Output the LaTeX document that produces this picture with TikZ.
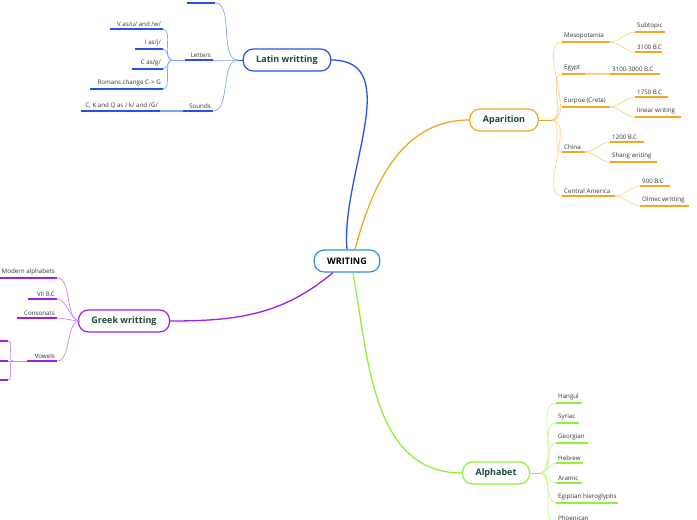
\documentclass[tikz,border=0pt]{standalone}
\usepackage{fontspec}
\setmainfont{Open Sans}
\begin{document}
\definecolor{bl}{HTML}{2553E6}\definecolor{bll}{HTML}{86A4F7}
\definecolor{or}{HTML}{F5A623}\definecolor{orl}{HTML}{FDD08A}
\definecolor{pu}{HTML}{9B1FE8}\definecolor{pul}{HTML}{C987F5}
\definecolor{gr}{HTML}{8EF23B}\definecolor{grl}{HTML}{C4F891}
\definecolor{wr}{HTML}{2F8FD8}\definecolor{tg}{HTML}{1B4A3A}
\begin{tikzpicture}[x=1pt,y=-1pt,
  main/.style={draw,rounded corners=10pt,line width=1.2pt,fill=white,minimum height=22pt,inner xsep=13pt,font=\fontsize{9}{11}\selectfont\bfseries,text=tg},
  lt/.style={font=\fontsize{6.2}{7}\selectfont,text=black!80,inner sep=1pt},
  br/.style={line width=0.7pt},
  ul/.style={line width=1.6pt}]
\useasboundingbox (0,0) rectangle (697,520);
\newcommand\leafR[6]{\coordinate (#1-a) at (#2,#4);\coordinate (#1-b) at (#3,#4);
  \draw[ul,#6] (#1-a)--(#1-b); \node[lt,anchor=south west] (#1) at (#2+1,#4-1.5) {#5};}
\newcommand\leafL[6]{\coordinate (#1-a) at (#2,#4);\coordinate (#1-b) at (#3,#4);
  \draw[ul,#6] (#1-a)--(#1-b); \node[lt,anchor=south east] (#1) at (#3-1,#4-1.5) {#5};}
\newcommand\con[3]{\draw[br,#3] (#1) to[out=0,in=180,looseness=0.8] (#2);}
\newcommand\conL[3]{\draw[br,#3] (#1) to[out=180,in=0,looseness=0.8] (#2);}

\node[main,draw=wr,text=black] (w) at (347,261) {WRITING};
\node[main,draw=bl] (lat) at (287,60) {Latin writting};
\node[main,draw=or] (apa) at (504,120) {Aparition};
\node[main,draw=pu] (gre) at (124,321) {Greek writting};
\node[main,draw=gr] (alp) at (496,473) {Alphabet};

\draw[bl,line width=1.3pt] (lat.east) to[out=0,in=95] (w.north);
\draw[or,line width=1.3pt] ([xshift=8pt]w.north) to[out=75,in=180] (apa.west);
\draw[pu,line width=1.3pt] ([xshift=-14pt]w.south) to[out=220,in=0] (gre.east);
\draw[gr,line width=1.3pt] ([xshift=6pt]w.south) to[out=-80,in=180] (alp.west);

% Latin
\coordinate (lh) at (238,60);
\draw[bl,line width=1pt] (lat.west)--(lh);
\leafL{vi}{187}{215}{3}{VI B.C}{bl}
\leafL{let}{185}{213}{60}{Letters}{bl}
\leafL{snd}{183}{213}{111}{Sounds}{bl}
\foreach \n in {vi,let,snd}{\conL{lh}{\n-b}{bll}}
\coordinate (leh) at (172,60); \draw[br,bll] (let-a)--(leh);
\leafL{v}{110}{163}{29}{V as/u/ and /w/}{bl}
\leafL{i}{135}{163}{49}{I as/j/}{bl}
\leafL{c}{132}{163}{69}{C as/g/}{bl}
\leafL{rom}{90}{163}{89}{Romans change C-> G}{bl}
\foreach \n in {v,i,c,rom}{\conL{leh}{\n-b}{bll}}
\leafL{ck}{81}{160}{111}{C, K and Q as / k/ and /G/}{bl}
\draw[br,bll,line width=1.2pt] (snd-a)--(ck-b);

% Aparition
\coordinate (ah) at (552,120);
\draw[or,line width=1pt] (apa.east)--(ah);
\leafR{mes}{562}{610}{42}{Mesopotamia}{or}
\leafR{egy}{562}{585}{74}{Egypt}{or}
\leafR{eur}{562}{610}{107}{Eurpoe (Creta)}{or}
\leafR{chi}{562}{585}{152}{China}{or}
\leafR{cen}{562}{615}{196}{Central America}{or}
\foreach \n in {mes,egy,eur,chi,cen}{\con{ah}{\n-a}{orl}}
\leafR{sub}{635}{665}{32}{Subtopic}{or}
\leafR{m31}{635}{662}{52}{3100 B.C}{or}
\foreach \n in {sub,m31}{\con{mes-b}{\n-a}{orl}}
\leafR{e31}{610}{660}{74}{3100-3000 B.C}{or}
\draw[br,orl,line width=1.2pt] (egy-b)--(e31-a);
\leafR{e17}{635}{668}{97}{1750 B.C}{or}
\leafR{lin}{635}{681}{117}{linear writing}{or}
\foreach \n in {e17,lin}{\con{eur-b}{\n-a}{orl}}
\leafR{c12}{610}{644}{142}{1200 B.C}{or}
\leafR{sha}{610}{657}{162}{Shang writing}{or}
\foreach \n in {c12,sha}{\con{chi-b}{\n-a}{orl}}
\leafR{c9}{640}{670}{186}{900 B.C}{or}
\leafR{olm}{640}{689}{206}{Olmec writting}{or}
\foreach \n in {c9,olm}{\con{cen-b}{\n-a}{orl}}

% Greek
\coordinate (gh) at (80,321);
\draw[pu,line width=1pt] (gre.west)--(gh);
\leafL{mod}{0}{57}{278}{Modern alphabets}{pu}
\leafL{vii}{28}{57}{299}{VII B.C}{pu}
\leafL{cons}{17}{57}{318}{Consonats}{pu}
\leafL{vow}{27}{57}{361}{Vowels}{pu}
\foreach \n in {mod,vii,cons,vow}{\conL{gh}{\n-b}{pul}}
\coordinate (vh) at (13,361); \draw[br,pul] (vow-a)--(vh);
\coordinate (g1a) at (0,341);\coordinate (g1b) at (8,341);
\coordinate (g2a) at (0,361);\coordinate (g2b) at (8,361);
\coordinate (g3a) at (0,380);\coordinate (g3b) at (8,380);
\foreach \n in {g1,g2,g3}{\draw[ul,pu] (\n a)--(\n b); \conL{vh}{\n b}{pul}}

% Alphabet
\coordinate (alh) at (540,473);
\draw[gr,line width=1pt] (alp.east)--(alh);
\leafR{han}{556}{582}{403}{Hangul}{gr}
\leafR{syr}{556}{579}{423}{Syriac}{gr}
\leafR{geo}{556}{588}{443}{Georgian}{gr}
\leafR{heb}{556}{583}{463}{Hebrew}{gr}
\leafR{ara}{556}{582}{483}{Aramic}{gr}
\leafR{egh}{556}{618}{503}{Egiptian hieroglyphs}{gr}
\leafR{pho}{556}{590}{523}{Phoenican}{gr}
\foreach \n in {han,syr,geo,heb,ara,egh,pho}{\con{alh}{\n-a}{grl}}
\end{tikzpicture}
\end{document}
